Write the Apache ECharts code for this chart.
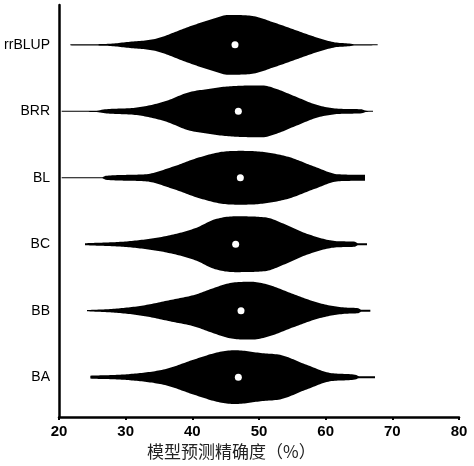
<!DOCTYPE html>
<html>
<head>
<meta charset="utf-8">
<script src="https://cdn.jsdelivr.net/npm/echarts@6/dist/echarts.min.js"></script>
<style>
  html, body { margin: 0; padding: 0; background: #fff; }
  #chart { width: 474px; height: 466px; }
</style>
</head>
<body>
<div id="chart"></div>
<script>
// categories, top to bottom
const models = ['rrBLUP', 'BRR', 'BL', 'BC', 'BB', 'BA'];

// median accuracy (%) for each model (white dots)
const medians = [46.4, 46.9, 47.2, 46.5, 47.3, 46.9];

// density profiles: [accuracy %, relative density]
const rrBLUP = [[21.7, 0.5], [27.3, 1], [30.4, 3], [34.4, 6], [39.4, 18], [43, 26], [45.4, 30],
  [49, 29], [52, 23], [55.4, 15], [58.4, 8], [61.4, 2.5], [63.3, 1.5], [64.5, 0.6], [67.8, 0.5]];
const BRR = [[20.4, 0.5], [25.4, 0.6], [26.9, 2], [31.9, 4], [35.9, 10], [39.4, 19], [41.9, 22],
  [45.4, 25], [50.5, 26], [52.4, 23], [55.4, 15], [58.9, 6], [62.4, 2.5], [65.4, 2], [66, 0.7], [67.1, 0.5]];
const BL = [[20.4, 0.5], [26.5, 0.6], [27, 2], [32.9, 3.5], [36.9, 10.7], [40.8, 20], [44.4, 26],
  [47.4, 27], [50.5, 26], [54.4, 21], [58.4, 11], [61.9, 3.5], [65.9, 3]];
const BC = [[23.9, 1], [30.4, 3], [35.9, 8], [40.4, 16], [43.4, 25], [46.4, 28], [50.9, 27],
  [53.9, 20], [57.4, 10], [61.9, 3], [64.4, 2.5], [64.8, 1], [66.2, 1]];
const BB = [[24.2, 0.6], [28.4, 2], [32.4, 5], [36.9, 11], [40.4, 16], [42.9, 22], [45.9, 28],
  [48.9, 29], [51.4, 26], [55.4, 16], [59.4, 7], [63.3, 3], [64.9, 2.5], [65.3, 1], [66.7, 1]];
const BA = [[24.7, 1.5], [30.4, 3], [35.9, 8], [40.4, 18], [43.9, 25], [46.4, 27], [50.5, 24],
  [53.4, 22], [56.9, 13], [60.9, 4], [64.4, 2.5], [65, 1], [67.4, 1]];

const profiles = [rrBLUP, BRR, BL, BC, BB, BA];

// x axis ticks
const xTicks = [20, 30, 40, 50, 60, 70, 80];

// density -> half width in category units
const VIOLIN_SCALE = 0.015;

var chart = echarts.init(document.getElementById('chart'));

// monotone cubic (Fritsch-Carlson) so the outline never overshoots
function monotoneOutline(prof) {
    var n = prof.length, xs = [], ys = [], d = [], m = [];
    for (var i = 0; i < n; i++) { xs.push(prof[i][0]); ys.push(prof[i][1]); }
    for (i = 0; i < n - 1; i++) d.push((ys[i + 1] - ys[i]) / (xs[i + 1] - xs[i]));
    m[0] = d[0]; m[n - 1] = d[n - 2];
    for (i = 1; i < n - 1; i++) {
        m[i] = (d[i - 1] * d[i] <= 0) ? 0 : (d[i - 1] + d[i]) / 2;
    }
    for (i = 0; i < n - 1; i++) {
        if (d[i] === 0) { m[i] = 0; m[i + 1] = 0; continue; }
        var a = m[i] / d[i], b = m[i + 1] / d[i], s = a * a + b * b;
        if (s > 9) {
            var t = 3 / Math.sqrt(s);
            m[i] = t * a * d[i]; m[i + 1] = t * b * d[i];
        }
    }
    var out = [];
    for (i = 0; i < n - 1; i++) {
        var h = xs[i + 1] - xs[i];
        var steps = Math.max(2, Math.ceil(h / 0.25));
        for (var k = 0; k < steps; k++) {
            var u = k / steps, u2 = u * u, u3 = u2 * u;
            var y = (2 * u3 - 3 * u2 + 1) * ys[i] + (u3 - 2 * u2 + u) * h * m[i]
                + (-2 * u3 + 3 * u2) * ys[i + 1] + (u3 - u2) * h * m[i + 1];
            out.push([xs[i] + u * h, y]);
        }
    }
    out.push([xs[n - 1], ys[n - 1]]);
    return out;
}

function renderViolin(params, api) {
    var idx = params.dataIndex;
    var line = monotoneOutline(profiles[idx]);
    var top = [], bottom = [];
    for (var i = 0; i < line.length; i++) {
        var hw = Math.max(line[i][1], 0.5) * VIOLIN_SCALE;
        top.push(api.coord([line[i][0], idx - hw]));
        bottom.unshift(api.coord([line[i][0], idx + hw]));
    }
    return {
        type: 'polygon',
        shape: { points: top.concat(bottom) },
        style: { fill: '#000', stroke: null }
    };
}

var option = {
    animation: false,
    grid: { left: 59, right: 15, top: 5, bottom: 49 },
    xAxis: {
        type: 'value',
        min: xTicks[0],
        max: xTicks[xTicks.length - 1],
        interval: 10,
        axisLine: { show: true, onZero: false, lineStyle: { color: '#000', width: 2.5 } },
        axisTick: { show: true, length: 3, lineStyle: { color: '#000', width: 2 } },
        axisLabel: {
            color: '#000', fontSize: 15, fontWeight: 'bold',
            fontFamily: 'Liberation Sans', margin: 7
        },
        splitLine: { show: false }
    },
    yAxis: {
        type: 'value',
        inverse: true,
        min: -0.6,
        max: 5.6,
        axisLine: { show: true, onZero: false, lineStyle: { color: '#000', width: 2.5 } },
        axisTick: { show: false },
        axisLabel: {
            customValues: [0, 1, 2, 3, 4, 5],
            formatter: function (v) { return models[Math.round(v)] || ''; },
            color: '#000', fontSize: 14, fontFamily: 'Liberation Sans', margin: 9
        },
        splitLine: { show: false }
    },
    graphic: [{
        type: 'text',
        left: 147,
        top: 443,
        style: {
            text: '模型预测精确度（%）',
            fill: '#222',
            font: '17px "Noto Sans CJK SC"'
        }
    }],
    series: [
        {
            type: 'custom',
            renderItem: renderViolin,
            data: models.map(function (m, i) { return [medians[i], i]; }),
            clip: true,
            silent: true,
            z: 2
        },
        {
            type: 'scatter',
            data: medians.map(function (v, i) { return [v, i]; }),
            symbolSize: 7,
            itemStyle: { color: '#fff', opacity: 1 },
            silent: true,
            z: 3
        }
    ]
};

option && chart.setOption(option);
</script>
</body>
</html>
